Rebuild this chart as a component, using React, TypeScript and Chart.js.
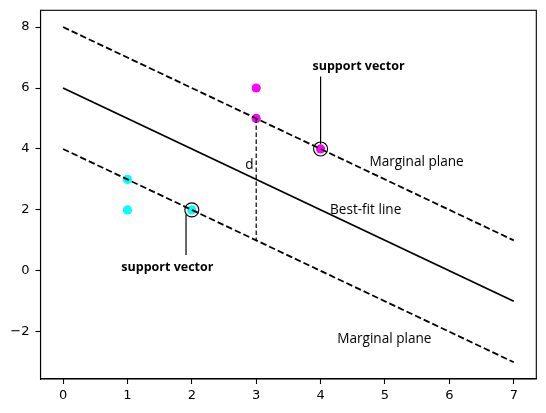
import React, { useEffect, useRef } from "react";
import { Chart, registerables } from "chart.js";

Chart.register(...registerables);

// ---- data ----
const lineX = [0, 7];
const bestFitY = [6, -1];
const upperMarginY = [8, 1];
const lowerMarginY = [4, -3];

const distX = [3, 3];
const distY = [5, 1];

const classAX = [3, 3, 4];
const classAY = [6, 5, 4];
const classBX = [1, 1, 2];
const classBY = [3, 2, 2];

const supportX = [2, 4];
const supportY = [2, 4];

const pointerTopX = [4, 4];
const pointerTopY = [6.38, 4.15];
const pointerBottomX = [1.91, 1.91];
const pointerBottomY = [1.85, 0.52];

const labelTexts = ["support vector", "support vector", "d", "Marginal plane", "Best-fit line", "Marginal plane"];
const labelX = [4.59, 1.62, 2.895, 5.49, 4.7, 4.99];
const labelY = [6.72, 0.11, 3.47, 3.57, 1.98, -2.25];
const labelBold = [true, true, false, false, false, false];

const xTickValues = [0, 1, 2, 3, 4, 5, 6, 7];
const yTickValues = [-2, 0, 2, 4, 6, 8];

const pts = (xs: number[], ys: number[]) => xs.map((x, i) => ({ x, y: ys[i] }));

const frameAndLabels = {
  id: "frameAndLabels",
  afterDatasetsDraw(chart: any) {
    const { ctx, chartArea, scales } = chart;
    ctx.save();
    ctx.strokeStyle = "#000";
    ctx.lineWidth = 1.1;
    ctx.strokeRect(chartArea.left, chartArea.top, chartArea.right - chartArea.left, chartArea.bottom - chartArea.top);
    ctx.textAlign = "center";
    ctx.textBaseline = "middle";
    ctx.fillStyle = "#000";
    labelTexts.forEach((t, i) => {
      ctx.font = (labelBold[i] ? "bold 12.5px" : "13.6px") + " 'Open Sans', Lato, sans-serif";
      ctx.fillText(t, scales.x.getPixelForValue(labelX[i]), scales.y.getPixelForValue(labelY[i]));
    });
    ctx.restore();
  },
};

const zeroPad = (s: any) => {
  s.paddingTop = 0;
  s.paddingBottom = 0;
  s.paddingLeft = 0;
  s.paddingRight = 0;
};

export default function App() {
  const ref = useRef<HTMLCanvasElement>(null);
  useEffect(() => {
    document.body.style.margin = "0";
    const chart = new Chart(ref.current!, {
      type: "scatter",
      data: {
        datasets: [
          { data: pts(lineX, upperMarginY), showLine: true, borderColor: "#000", borderWidth: 1.8, borderDash: [6.5, 3], pointRadius: 0 },
          { data: pts(lineX, bestFitY), showLine: true, borderColor: "#000", borderWidth: 1.8, pointRadius: 0 },
          { data: pts(lineX, lowerMarginY), showLine: true, borderColor: "#000", borderWidth: 1.8, borderDash: [6.5, 3], pointRadius: 0 },
          { data: pts(distX, distY), showLine: true, borderColor: "#000", borderWidth: 1.2, borderDash: [4.5, 2.5], pointRadius: 0 },
          { data: pts(pointerTopX, pointerTopY), showLine: true, borderColor: "#000", borderWidth: 1.2, pointRadius: 0 },
          { data: pts(pointerBottomX, pointerBottomY), showLine: true, borderColor: "#000", borderWidth: 1.2, pointRadius: 0 },
          { data: pts(classAX, classAY), backgroundColor: "#ff00ff", borderWidth: 0, pointRadius: 4.6 },
          { data: pts(classBX, classBY), backgroundColor: "#00ffff", borderWidth: 0, pointRadius: 4.6 },
          { data: pts(supportX, supportY), backgroundColor: "rgba(0,0,0,0)", borderColor: "#000", borderWidth: 1.1, pointRadius: 7 },
        ],
      },
      options: {
        animation: false,
        responsive: false,
        events: [],
        layout: { padding: { left: 0, top: 10.3, right: 9.7, bottom: 0 } },
        plugins: { legend: { display: false }, tooltip: { enabled: false } },
        scales: {
          x: {
            type: "linear",
            min: -0.35,
            max: 7.35,
            afterFit: (s: any) => { s.height = 34; zeroPad(s); },
            afterBuildTicks: (s: any) => { s.ticks = xTickValues.map((v) => ({ value: v })); },
            grid: { drawOnChartArea: false, drawTicks: true, tickLength: 5, tickColor: "#000", tickWidth: 1.1 },
            border: { display: true, color: "#000", width: 1.1 },
            ticks: { color: "#000", padding: 4, font: { family: "'DejaVu Sans'", size: 13 } },
          },
          y: {
            type: "linear",
            min: -3.55,
            max: 8.55,
            afterFit: (s: any) => { s.width = 40.5; zeroPad(s); },
            afterBuildTicks: (s: any) => { s.ticks = yTickValues.map((v) => ({ value: v })); },
            grid: { drawOnChartArea: false, drawTicks: true, tickLength: 5, tickColor: "#000", tickWidth: 1.1 },
            border: { display: true, color: "#000", width: 1.1 },
            ticks: {
              color: "#000",
              padding: 6,
              font: { family: "'DejaVu Sans'", size: 13 },
              callback: (v: any) => (v < 0 ? "\u2212" + Math.abs(v) : String(v)),
            },
          },
        },
      },
      plugins: [frameAndLabels],
    });
    return () => chart.destroy();
  }, []);
  return (
    <div style={{ position: "fixed", left: 0, top: 0, width: 546, height: 413, background: "#fff" }}>
      <canvas ref={ref} width={546} height={413} style={{ width: 546, height: 413 }} />
    </div>
  );
}
